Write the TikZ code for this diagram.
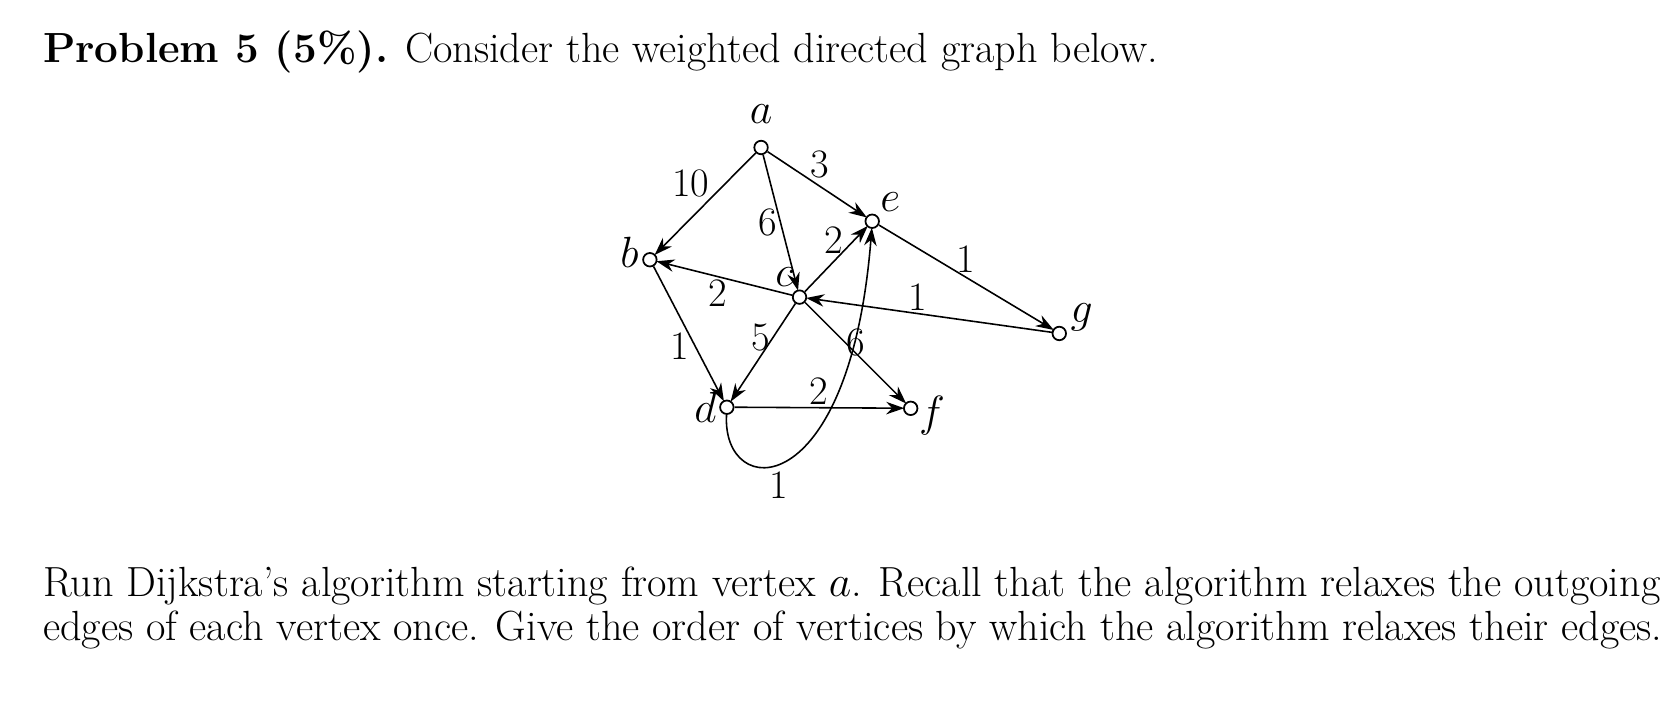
\documentclass[tikz,border=0pt]{standalone}
\usetikzlibrary{arrows.meta}
\begin{document}
\begin{tikzpicture}[scale=1.069,
  v/.style={circle,draw,fill=white,inner sep=0pt,minimum size=0.27cm,line width=1pt},
  e/.style={-{Stealth[length=0.36cm,width=0.25cm]},line width=0.9pt,shorten >=-0.02cm},
  lab/.style={font=\fontsize{23}{27}\selectfont},
  txt/.style={font=\fontsize{24}{29}\selectfont,anchor=west,inner sep=0pt}]
\useasboundingbox (0,0.88) rectangle (31.36,13.98);
\node[txt] (t1) at (0.8,13.0) {\textbf{Problem 5 (5\%).} Consider the weighted directed graph below.};
\node[txt] (t2) at (0.8,3.02) {Run Dijkstra's algorithm starting from vertex $a$. Recall that the algorithm relaxes the outgoing};
\node[txt] (t3) at (0.8,2.2) {edges of each vertex once. Give the order of vertices by which the algorithm relaxes their edges.};
\node[v] (a) at (14.24,11.22) {};
\node[v] (b) at (12.16,9.12) {};
\node[v] (c) at (14.96,8.42) {};
\node[v] (d) at (13.6,6.36) {};
\node[v] (ee) at (16.32,9.84) {};
\node[v] (f) at (17.04,6.34) {};
\node[v] (g) at (19.82,7.74) {};
\node[lab] (la) at (14.24,11.85) {$a$};
\node[lab] (lb) at (11.78,9.26) {$b$};
\node[lab] (lc) at (14.68,8.8) {$c$};
\node[lab] (ld) at (13.2,6.36) {$d$};
\node[lab] (le) at (16.66,10.2) {$e$};
\node[lab] (lf) at (17.44,6.2) {$f$};
\node[lab] (lg) at (20.24,8.04) {$g$};
\draw[e] (a) -- node[lab,pos=0.45,above left=-3pt] {10} (b);
\draw[e] (a) -- node[lab,pos=0.42,above right=-3pt] {3} (ee);
\draw[e] (a) -- node[lab,pos=0.5,left=-2pt] {6} (c);
\draw[e] (c) -- node[lab,pos=0.55,below=-2pt] {2} (b);
\draw[e] (c) -- node[lab,pos=0.6,above left=-4pt] {2} (ee);
\draw[e] (ee) -- node[lab,pos=0.45,above right=-4pt] {1} (g);
\draw[e] (g) -- node[lab,pos=0.55,above=-2pt] {1} (c);
\draw[e] (b) -- node[lab,pos=0.5,below left=-4pt] {1} (d);
\draw[e] (c) -- node[lab,pos=0.35,left=-2pt] {5} (d);
\draw[e] (c) -- node[lab,pos=0.4,right=-3pt] {6} (f);
\draw[e] (d) -- node[lab,above=-2pt] {2} (f);
\draw[e] (d) .. controls (13.5,4.6) and (15.9,4.5) .. node[lab,pos=0.45,below=1pt] {1} (ee);
\end{tikzpicture}
\end{document}
